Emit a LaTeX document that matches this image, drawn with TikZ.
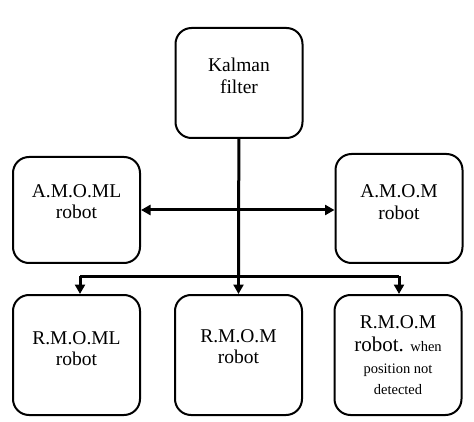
\documentclass[tikz,border=0pt]{standalone}
\usepackage{fontspec}
\setmainfont{Liberation Serif}
\usepackage{tikz}
\usetikzlibrary{positioning,arrows.meta}
\def\bigtxt{\fontsize{19.5}{21.5}\selectfont}
\def\smltxt{\fontsize{14.5}{19}\selectfont}

\begin{document}
\begin{tikzpicture}[>={Triangle[width=10pt,length=9.5pt]}, box/.style={draw, line width=2pt, rounded corners=16pt, minimum width=127pt, minimum height=110pt, align=center, inner sep=0pt, font=\bigtxt}, wire/.style={line width=3pt}]
\useasboundingbox (0pt, 0pt) rectangle (474pt, -422pt);
\draw (239.0pt, -83.0pt)node[box](kf){Kalman\\filter\\[-7pt]};
\draw (76.5pt, -210.0pt)node[box, minimum height=106pt](aml){A.M.O.ML\\robot\\[-5pt]};
\draw (399.0pt, -208.5pt)node[box, minimum height=109pt](am){A.M.O.M\\robot\\[-9pt]};
\draw (76.5pt, -355.0pt)node[box, minimum height=120pt](rml){R.M.O.ML\\robot\\[-9pt]};
\draw (238.5pt, -355.0pt)node[box, minimum height=120pt](rm){R.M.O.M\\robot\\[-5pt]};
\draw (398.0pt, -355.0pt)node[box, minimum height=120pt](rmp){R.M.O.M\\[2pt]{\fontsize{21}{21}\selectfont robot.} {\smltxt when}\\{\smltxt position not}\\{\smltxt detected}};
\coordinate (jn) at (238.5pt, -276.0pt);
\coordinate (bl) at (80.0pt, -276.0pt);
\coordinate (br) at (399.0pt, -276.0pt);
\draw[wire] (kf) -- (jn);
\draw[wire, <->] (aml) -- (am.west |- aml.east);
\draw[wire] (bl) -- (br);
\draw[wire, ->] (bl) -- (bl |- rml.north);
\draw[wire, ->] (jn) -- (rm);
\draw[wire, ->] (br) -- (br |- rmp.north);
\end{tikzpicture}
\end{document}
